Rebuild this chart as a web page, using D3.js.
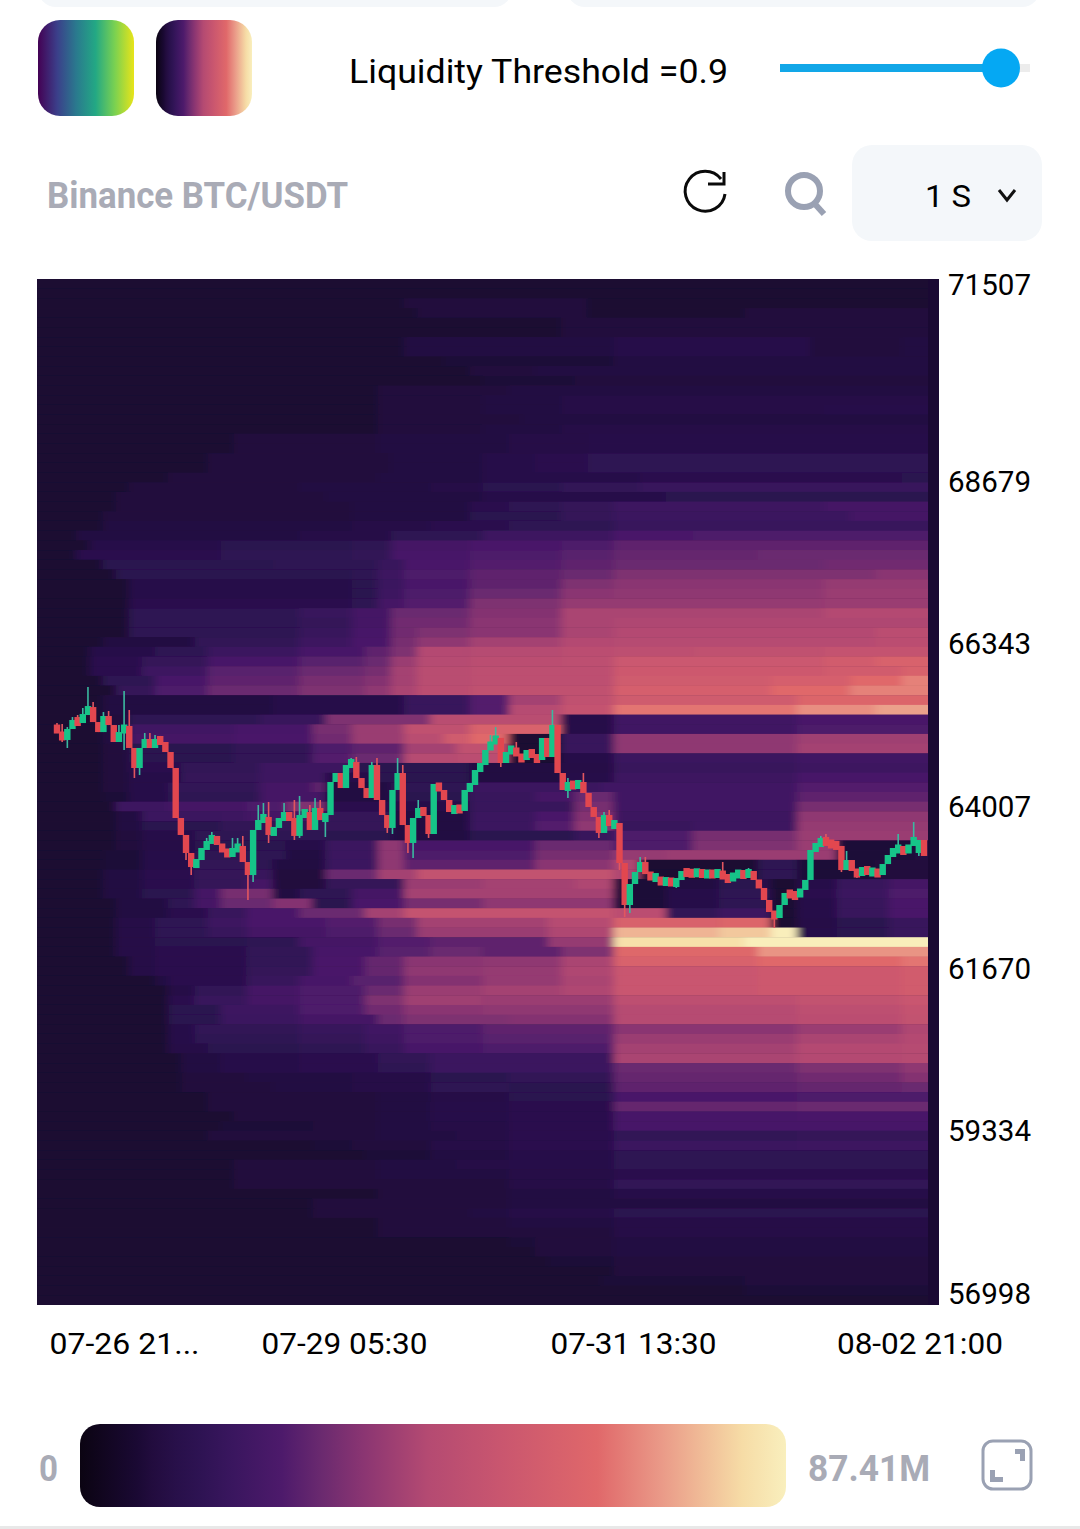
<!DOCTYPE html>
<html><head><meta charset="utf-8">
<script src="https://cdnjs.cloudflare.com/ajax/libs/d3/7.9.0/d3.min.js"></script>
<style>html,body{margin:0;padding:0;background:#fff}svg{display:block}text{font-family:Roboto,sans-serif}</style>
</head><body><svg id="c" width="1080" height="1529"></svg>
<script>
// ---- data ----
const priceTicks = [71507,68679,66343,64007,61670,59334,56998];
const timeTickLabels = ["07-26 21...","07-29 05:30","07-31 13:30","08-02 21:00"];
const timeTicks = ["2024-07-26T21:30Z","2024-07-29T05:30Z","2024-07-31T13:30Z","2024-08-02T21:00Z"];
const legendMax = 87.41;
const legendStops = [[0,"#0b0412"],[7,"#1a0933"],[9,"#220c3e"],[12,"#28104a"],[15,"#2e1353"],[19,"#3a165f"],[25,"#4d1a6b"],[30,"#6b2a6f"],[35,"#8a3572"],[43,"#b44a72"],[52,"#c9566f"],[64,"#e0686a"],[72,"#ea9a88"],[82,"#f6dca6"],[87.41,"#f9efbd"]];
const viridisStops = ["#440154","#3b3f8a","#2a7a8e","#23a884","#7ad151","#e8e419"];
// liquidity in millions: one list per price band (top to bottom), runs of [first column, value]
const heatRows = [
[[0,7]],[[0,7]],
[[0,7],[28,9],[42,7]],
[[0,7],[29,9],[42,7],[54,9]],
[[0,7],[40,9]],
[[0,7],[40,9]],
[[0,7],[28,10],[44,12],[59,9],[66,10]],
[[0,7],[28,10],[44,12],[59,9],[66,10]],
[[0,7],[31,8],[44,10]],
[[0,7],[33,9],[38,10]],
[[0,7],[34,8],[41,9]],
[[0,7],[26,9],[36,10]],
[[0,7],[26,9],[34,10],[40,11]],
[[0,7],[26,9],[34,10],[40,11],[60,12]],
[[0,7],[26,9],[37,10]],
[[0,7],[26,9],[34,10],[40,11]],
[[0,7],[15,9],[26,10],[36,11],[42,12]],
[[0,7],[15,9],[26,10],[36,11],[42,12]],
[[0,7],[13,9],[27,10],[34,12],[38,13],[42,15]],
[[0,7],[13,9],[27,10],[34,12],[38,13],[42,15]],
[[0,7],[10,9],[26,10],[34,12],[46,13],[66,14]],
[[0,7],[7,9],[20,10],[30,11],[34,14],[40,16],[46,18]],
[[0,7],[6,9],[22,10],[34,12],[48,14]],
[[0,7],[6,9],[24,10],[33,13],[36,15],[40,17],[44,20],[60,22]],
[[0,7],[5,9],[24,10],[33,14],[40,17],[44,19],[62,22]],
[[0,7],[5,10],[24,11],[30,13],[36,15],[44,18]],
[[0,7],[3,10],[20,11],[27,15],[34,20],[44,24],[50,25]],
[[0,7],[4,12],[14,14],[24,15],[27,22],[33,24],[40,25],[44,28]],
[[0,7],[3,13],[14,15],[24,16],[27,23],[33,25],[40,27],[44,29],[55,30]],
[[0,7],[5,14],[18,15],[26,18],[28,24],[33,26],[40,28],[44,30],[60,31]],
[[0,7],[6,14],[24,15],[26,20],[28,25],[33,28],[40,30],[44,33],[64,35]],
[[0,7],[7,12],[24,14],[26,19],[28,24],[33,28],[40,33],[44,35],[60,37]],
[[0,7],[7,12],[24,14],[26,20],[28,25],[33,30],[40,35],[44,36],[60,38]],
[[0,7],[7,13],[24,15],[26,22],[28,26],[33,33],[40,37],[60,38]],
[[0,7],[7,15],[20,18],[24,22],[27,30],[33,34],[40,41],[60,43]],
[[0,7],[7,15],[20,17],[24,22],[27,31],[33,35],[40,41],[44,42]],
[[0,7],[7,15],[20,18],[24,23],[27,31],[29,33],[33,35],[40,41],[44,43],[64,46]],
[[0,7],[5,10],[12,16],[20,20],[24,24],[27,32],[29,36],[33,40],[40,43],[44,44],[64,46]],
[[0,7],[4,12],[9,15],[13,19],[20,23],[25,28],[27,33],[29,43],[33,44],[40,46],[44,47],[50,48],[60,50]],
[[0,7],[4,13],[8,17],[13,23],[20,27],[25,30],[27,38],[29,44],[33,46],[40,47],[44,53],[60,56],[64,60]],
[[0,7],[4,13],[8,20],[13,27],[20,30],[25,32],[27,40],[29,45],[33,47],[44,54],[60,56],[66,60]],
[[0,7],[5,15],[9,23],[13,28],[20,32],[25,34],[27,40],[29,45],[33,47],[44,55],[56,58],[62,64],[66,68]],
[[0,7],[6,17],[9,25],[13,30],[20,33],[25,36],[27,41],[29,46],[33,48],[44,58],[56,64],[62,68]],
[[0,7],[5,10],[18,12],[28,18],[33,26],[36,40],[40,48],[44,55],[58,62]],
[[0,7],[5,10],[18,12],[28,18],[33,26],[36,44],[40,50],[44,66],[58,70],[64,73]],
[[0,7],[5,9],[7,15],[17,18],[22,33],[30,45],[40,12],[44,21],[58,24]],
[[0,7],[5,10],[7,21],[15,23],[21,32],[24,38],[28,48],[33,60],[40,12],[44,21],[58,25]],
[[0,7],[5,10],[7,22],[15,24],[21,31],[24,38],[28,45],[31,55],[33,64],[36,7],[40,18],[44,36],[58,39]],
[[0,7],[5,9],[7,14],[15,16],[21,25],[24,28],[28,40],[32,48],[36,7],[40,18],[44,36],[58,40]],
[[0,7],[5,9],[7,14],[15,16],[21,26],[24,30],[28,44],[32,46],[36,7],[40,12],[44,19],[58,21]],
[[0,7],[5,9],[7,13],[11,16],[17,20],[24,14],[33,10],[40,11],[44,18],[58,20]],
[[0,7],[5,9],[7,12],[11,17],[17,20],[22,12],[26,14],[33,10],[40,12],[44,20],[58,23]],
[[0,7],[5,9],[7,12],[10,16],[17,22],[21,28],[22,10],[27,15],[33,19],[43,21],[58,26]],
[[0,7],[5,8],[7,12],[10,15],[17,22],[22,10],[27,14],[33,18],[38,22],[41,30],[44,21],[58,28]],
[[0,7],[6,20],[10,22],[16,25],[19,33],[22,13],[27,12],[33,18],[41,32],[44,21],[58,32]],
[[0,7],[6,10],[8,19],[14,20],[16,22],[22,17],[27,10],[33,19],[38,24],[41,34],[44,20],[58,36]],
[[0,7],[6,10],[8,14],[14,16],[22,17],[27,10],[33,19],[38,26],[41,36],[44,18],[50,20],[58,37]],
[[0,7],[6,9],[8,12],[12,15],[22,14],[27,10],[33,14],[41,18],[44,25],[50,32],[58,38]],
[[0,7],[6,9],[8,11],[12,14],[16,14],[19,12],[22,19],[26,36],[28,23],[38,30],[44,25],[50,33],[58,38],[61,8],[67,10]],
[[0,7],[5,8],[8,12],[12,15],[19,10],[22,19],[26,36],[28,25],[38,32],[44,37],[48,38],[58,38],[61,8],[67,10]],
[[0,7],[5,8],[8,12],[12,16],[16,15],[18,10],[22,19],[26,36],[28,28],[38,35],[44,42],[46,7],[55,15],[58,8],[64,9]],
[[0,7],[5,10],[8,13],[12,17],[16,18],[18,9],[22,30],[26,40],[29,49],[44,42],[46,7],[55,15],[58,8],[64,9]],
[[0,7],[5,10],[8,13],[12,17],[16,22],[18,9],[22,17],[28,38],[34,40],[41,42],[44,8],[48,10],[52,14],[55,12],[56,7],[58,12],[61,18],[65,22]],
[[0,7],[5,10],[8,14],[12,22],[14,32],[18,10],[20,15],[24,22],[28,40],[44,8],[48,12],[52,15],[56,7],[58,13],[61,19],[65,25]],
[[0,7],[6,10],[10,15],[12,22],[14,30],[18,34],[21,14],[24,24],[28,32],[34,36],[44,8],[48,12],[52,15],[56,7],[58,12],[61,18],[65,24]],
[[0,7],[6,10],[10,13],[13,18],[16,24],[20,30],[25,40],[28,50],[44,46],[48,16],[52,20],[56,7],[58,12],[61,18],[65,24]],
[[0,7],[6,11],[9,15],[13,20],[16,24],[22,26],[26,32],[29,40],[39,44],[44,60],[52,62],[56,7],[58,11],[61,14],[65,18]],
[[0,7],[6,11],[9,15],[13,18],[16,22],[22,25],[26,30],[29,38],[39,42],[44,76],[52,79],[56,87],[58,12],[61,14],[65,18]],
[[0,7],[6,11],[9,14],[16,15],[20,22],[26,26],[30,28],[39,37],[44,83],[54,87]],
[[0,7],[6,11],[9,13],[16,16],[21,23],[26,27],[30,30],[34,28],[40,33],[44,63],[55,71]],
[[0,7],[7,11],[9,13],[16,16],[21,24],[25,29],[28,35],[34,36],[40,41],[44,60],[55,64],[66,66]],
[[0,7],[7,11],[9,13],[16,17],[21,24],[25,29],[28,36],[34,37],[40,42],[44,52],[55,54],[66,56]],
[[0,7],[9,10],[10,13],[16,18],[20,23],[24,27],[28,34],[34,37],[40,41],[44,52],[55,54],[66,56]],
[[0,7],[10,11],[12,16],[16,22],[20,25],[25,30],[28,38],[34,40],[40,42],[44,52],[55,54],[66,56]],
[[0,7],[10,13],[12,18],[16,22],[20,25],[25,33],[28,39],[34,38],[44,47],[58,49],[66,52]],
[[0,7],[10,14],[14,20],[20,25],[25,31],[28,35],[34,36],[44,44],[58,47],[66,50]],
[[0,7],[10,14],[14,19],[20,22],[26,30],[28,33],[36,34],[44,44],[58,46],[66,49]],
[[0,7],[10,12],[12,16],[20,18],[25,21],[28,25],[34,28],[44,35],[58,38],[66,42]],
[[0,7],[10,12],[12,15],[20,17],[25,20],[28,25],[34,27],[44,38],[58,41],[66,43]],
[[0,7],[10,11],[13,14],[20,15],[25,18],[28,23],[34,25],[44,40],[58,43],[66,44]],
[[0,7],[11,10],[14,12],[20,13],[26,16],[30,19],[44,41],[58,43],[66,44]],
[[0,7],[11,10],[14,12],[20,13],[26,15],[30,19],[44,30],[58,33],[66,36]],
[[0,7],[11,9],[16,10],[24,11],[30,14],[36,16],[44,29],[58,31],[66,34]],
[[0,7],[11,9],[18,10],[24,11],[30,15],[36,14],[44,28],[58,29],[66,30]],
[[0,7],[13,9],[26,10],[30,11],[36,14],[44,24],[58,25]],
[[0,7],[13,9],[26,10],[30,12],[36,13],[44,29],[58,30]],
[[0,7],[15,9],[26,10],[30,12],[36,13],[44,23],[58,24]],
[[0,7],[14,8],[21,9],[26,10],[30,11],[36,13],[44,23]],
[[0,7],[13,9],[26,10],[32,11],[36,13],[44,16],[58,17]],
[[0,7],[21,8],[24,9],[30,11],[36,13],[44,19],[58,20]],
[[0,7],[25,8],[30,10],[36,12],[44,15]],
[[0,7],[15,9],[26,10],[32,11],[36,12],[44,15]],
[[0,7],[15,9],[26,10],[36,11],[44,13]],
[[0,7],[15,9],[36,11],[44,16]],
[[0,7],[26,9],[36,10],[44,12]],
[[0,7],[21,9],[36,10]],
[[0,7],[21,9],[33,10],[36,11],[44,14]],
[[0,7],[26,9],[36,10],[44,11]],
[[0,7],[26,9],[44,11]],
[[0,7],[36,8],[38,9],[44,10]],
[[0,7],[38,9],[44,10]],
[[0,7],[39,8],[44,9]],
[[0,7],[44,9]],
[[0,7],[43,8],[54,9]],
[[0,7],[54,8]],
[[0,7]]
];
// hourly candles, first open then closes
const firstOpen = 65172;
const closes = [65085,64971,65129,65258,65215,65344,65445,65229,65085,65316,65186,64942,65085,65172,64856,64568,64856,64985,64856,64985,64942,64798,64568,63849,63605,63346,63144,63245,63418,63490,63591,63461,63375,63317,63389,63447,63216,63029,63677,63820,63864,63605,63706,63849,63892,63849,63591,63892,63935,63677,63993,63820,63892,64367,64496,64280,64611,64654,64424,64280,64137,64611,64108,63892,63706,64252,64496,63748,63490,63849,63993,63892,63619,64338,64252,64108,63935,64007,63950,64252,64324,64539,64611,64827,64942,65000,64640,64798,64856,64741,64683,64827,64726,64683,65000,64726,65186,64496,64252,64352,64295,64367,64209,64007,63864,63634,63892,63734,63777,63202,62598,62900,63072,63216,63043,62986,63000,62885,62986,62871,62972,63072,63058,63050,63072,63029,63058,63029,63072,62986,62972,63029,63058,63015,63087,62958,62843,62670,62497,62411,62598,62771,62742,62727,62814,62958,63389,63461,63533,63490,63461,63447,63101,63245,63087,63029,63130,63058,63087,63029,63187,63317,63389,63418,63346,63461,63562,63533,63303];
const openGaps = {167:63346,168:63533};
const highWicks = {0:65215,1:65201,2:65157,3:65301,4:65330,5:65431,6:65733,7:65517,9:65373,10:65388,12:65186,13:65675,14:65402,17:65072,18:65072,19:65043,20:65029,29:63562,30:63648,34:63562,35:63562,36:63591,39:64036,40:64065,41:64079,44:64065,46:64108,47:64166,49:64036,50:64137,51:64108,57:64711,58:64726,61:64654,62:64711,66:64711,67:64611,70:64108,84:65043,85:65157,89:64942,96:65402,99:64424,102:64496,106:63935,107:63964,113:63288,114:63288,129:63216,134:63130,148:63591,149:63619,153:63375,163:63620,166:63791};
const lowWicks = {1:64942,2:64856,13:64827,15:64424,16:64467,26:63029,25:63245,37:62670,38:62929,41:63490,46:63533,47:63562,52:63576,64:63634,65:63619,68:63346,69:63274,72:63562,86:64583,99:64137,105:63562,109:63101,110:62425,111:62483,120:62843,139:62267,152:63072,155:62986,167:63303};
const startTime = "2024-07-26T21:30Z", endTime = "2024-08-02T21:30Z";

// ---- drawing ----
const svg = d3.select("#c");
const defs = svg.append("defs");
const L=37,R=939,HR=928,T=279,B=1305;
const x = d3.scaleUtc().domain([new Date(startTime),new Date(endTime)]).range([57,924]);
const y = d3.scaleLinear().domain([71600,56846]).range([T,B]);
const colX = d3.scaleLinear().domain([0,68]).range([L,HR]);
const rowY = d3.scaleBand().domain(d3.range(heatRows.length)).range([T,B]);
const color = d3.scaleLinear().domain(legendStops.map(d=>d[0])).range(legendStops.map(d=>d[1])).clamp(true);

function grad(id,stops){
  const g=defs.append("linearGradient").attr("id",id);
  g.selectAll("stop").data(stops).enter().append("stop").attr("offset",d=>d[0]).attr("stop-color",d=>d[1]);
}
grad("viridis",viridisStops.map((c,i)=>[i/(viridisStops.length-1),c]));
grad("magma",legendStops.map(d=>[d[0]/legendMax,d[1]]));
const blur=(id,s)=>defs.append("filter").attr("id",id).attr("filterUnits","userSpaceOnUse").attr("x",0).attr("y",250).attr("width",1080).attr("height",1100).append("feGaussianBlur").attr("stdDeviation",s);
blur("soft","4.5 0.6"); blur("soft2",0.45);
defs.append("clipPath").attr("id","plot").append("rect").attr("x",L).attr("y",T).attr("width",R-L).attr("height",B-T);

const label=(t,px,py,size,w,fill,weight,anchor)=>svg.append("text").attr("x",px).attr("y",py).attr("font-size",size).attr("fill",fill||"#000").attr("font-weight",weight||400).attr("text-anchor",anchor||"start").attr("textLength",w).attr("lengthAdjust","spacingAndGlyphs").text(t);

// top controls
svg.append("rect").attr("x",38).attr("y",-30).attr("width",474).attr("height",37).attr("rx",18).attr("fill","#f4f7fa");
svg.append("rect").attr("x",567).attr("y",-30).attr("width",473).attr("height",37).attr("rx",18).attr("fill","#f4f7fa");
svg.append("rect").attr("x",38).attr("y",20).attr("width",96).attr("height",96).attr("rx",22).attr("fill","url(#viridis)");
svg.append("rect").attr("x",156).attr("y",20).attr("width",96).attr("height",96).attr("rx",22).attr("fill","url(#magma)");
label("Liquidity Threshold =0.9",349,83,33,379);
svg.append("rect").attr("x",780).attr("y",64).attr("width",250).attr("height",8).attr("fill","#ececec");
svg.append("rect").attr("x",780).attr("y",64).attr("width",222).attr("height",8).attr("fill","#12a7e8");
svg.append("ellipse").attr("cx",1001).attr("cy",68).attr("rx",19).attr("ry",19.5).attr("fill","#05a8f3");
label("Binance BTC/USDT",47,208,36,301,"#a9abb6",700);
// refresh icon
svg.append("path").attr("d","M721 179 A20 20 0 1 0 725 194").attr("fill","none").attr("stroke","#0a0a0a").attr("stroke-width",3);
svg.append("path").attr("d","M708 184 H724 V172").attr("fill","none").attr("stroke","#0a0a0a").attr("stroke-width",3);
// search icon
svg.append("circle").attr("cx",804).attr("cy",191).attr("r",16).attr("fill","none").attr("stroke","#9aa1b3").attr("stroke-width",6);
svg.append("line").attr("x1",814).attr("y1",203).attr("x2",824).attr("y2",214).attr("stroke","#9aa1b3").attr("stroke-width",6);
svg.append("rect").attr("x",852).attr("y",145).attr("width",190).attr("height",96).attr("rx",20).attr("fill","#f4f7fa");
label("1 S",925,207,32,46);
svg.append("path").attr("d","M999 190 L1007 200 L1015 190").attr("fill","none").attr("stroke","#111").attr("stroke-width",3);

// heatmap
svg.append("rect").attr("x",L).attr("y",T).attr("width",R-L).attr("height",B-T).attr("fill",color(7));
const heat = svg.append("g").attr("clip-path","url(#plot)").append("g").attr("filter","url(#soft)");
const cells = heatRows.flatMap((runs,i)=>runs.map((r,j)=>({i,c0:r[0],c1:j+1<runs.length?runs[j+1][0]:71,v:r[1]})));
heat.selectAll("rect").data(cells).enter().append("rect")
  .attr("x",d=>colX(d.c0)-(d.c0===0?40:0)).attr("width",d=>colX(d.c1)-colX(d.c0)+(d.c0===0?40:0)+.4)
  .attr("y",d=>rowY(d.i)-(d.i===0?4:0)).attr("height",d=>rowY.bandwidth()+.4+((d.i===0||d.i===heatRows.length-1)?4:0))
  .attr("fill",d=>color(d.v));
svg.append("rect").attr("x",HR).attr("y",T).attr("width",R-HR).attr("height",B-T).attr("fill",color(7));

// candles
const candles = closes.map((c,k)=>{
  const open = openGaps[k]!==undefined?openGaps[k]:(k?closes[k-1]:firstOpen);
  return {t:d3.utcHour.offset(new Date(startTime),k),open,close:c,high:Math.max(open,c,highWicks[k]||0),low:Math.min(open,c,lowWicks[k]||Infinity)};
});
const green="#17c488", red="#e2474f";
const cg = svg.append("g").attr("clip-path","url(#plot)").append("g").attr("filter","url(#soft2)");
cg.selectAll("line").data(candles).enter().append("line")
  .attr("x1",d=>x(d.t)).attr("x2",d=>x(d.t)).attr("y1",d=>y(d.high)).attr("y2",d=>y(d.low))
  .attr("stroke",d=>d.close>=d.open?"#3bb9a0":"#e2575f").attr("stroke-width",1.6);
const minBody=9;
cg.selectAll("rect").data(candles).enter().append("rect")
  .attr("x",d=>x(d.t)-3.2).attr("width",6.4)
  .attr("y",d=>{const a=y(Math.max(d.open,d.close)),h=Math.abs(y(d.open)-y(d.close));return h<minBody?a-(minBody-h)/2:a;})
  .attr("height",d=>Math.max(minBody,Math.abs(y(d.open)-y(d.close))))
  .attr("fill",d=>d.close>=d.open?green:red);

// axes
const yAxis = svg.append("g").attr("transform",`translate(${R},0)`).call(d3.axisRight(y).tickValues(priceTicks).tickFormat(d3.format("d")).tickSize(0).tickPadding(9));
yAxis.select(".domain").remove();
yAxis.selectAll("text").attr("font-family","Roboto,sans-serif").attr("font-size",30).attr("fill","#000").attr("dy","0.3em").attr("textLength",83).attr("lengthAdjust","spacingAndGlyphs");
const xTimes = timeTicks.map(t=>new Date(t));
const xAxis = svg.append("g").attr("transform",`translate(-2,1330)`).call(d3.axisBottom(x).tickValues(xTimes).tickSize(0).tickPadding(0).tickFormat((d,i)=>timeTickLabels[i]));
xAxis.select(".domain").remove();
xAxis.selectAll("text").attr("font-family","Roboto,sans-serif").attr("font-size",30).attr("fill","#000").attr("y",0).attr("dy","24").attr("textLength",(d,i)=>i?166:150).attr("lengthAdjust","spacingAndGlyphs").filter((d,i)=>i===0).attr("text-anchor","start").attr("dx",-6);

// legend
svg.append("rect").attr("x",80).attr("y",1424).attr("width",706).attr("height",83).attr("rx",20).attr("fill","url(#magma)");
label("0",39,1481,36,19,"#a9abb6",700);
label("87.41M",808,1481,36,122,"#a9abb6",700);
svg.append("rect").attr("x",983).attr("y",1441).attr("width",48).attr("height",48).attr("rx",10).attr("fill","none").attr("stroke","#9aa1b3").attr("stroke-width",3);
svg.append("path").attr("d","M1015 1449 H1025 V1461 H1020 V1454 H1015 Z M990 1470 H995 V1477 H1003 V1482 H990 Z").attr("fill","#9aa1b3");
svg.append("rect").attr("x",0).attr("y",1526).attr("width",1080).attr("height",3).attr("fill","#e8e8e8");
</script></body></html>
